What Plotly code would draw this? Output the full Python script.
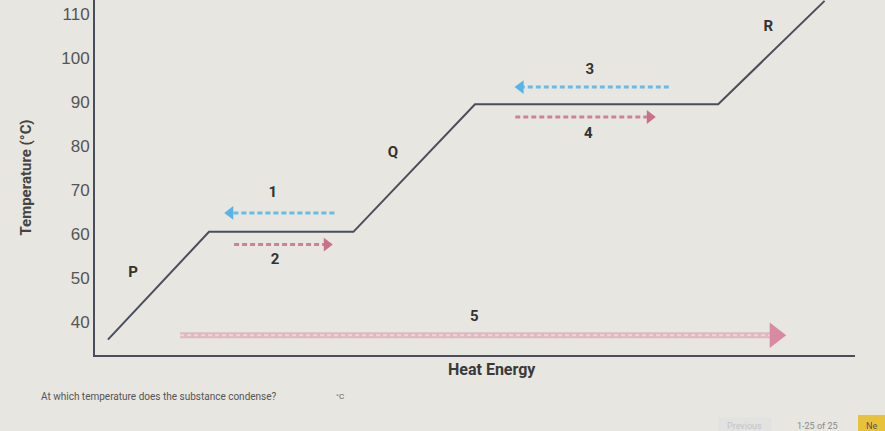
import plotly.graph_objects as go

# Heating curve (heat energy in arbitrary units 0-100, temperature in °C)
curve_x = [1.7, 15, 34, 50, 82, 96]
curve_t = [36, 60.5, 60.5, 89.5, 89.5, 113]

# dashed arrows: start x, end x, temperature, colour
arrow_names = ["1", "2", "3", "4"]
arrow_x0 = [31.5, 18.3, 75.5, 55.3]
arrow_x1 = [17.8, 30.5, 56.0, 73.0]
arrow_t = [64.8, 57.6, 93.4, 86.6]
arrow_colors = ["#56b4e6", "#c9708a", "#56b4e6", "#c9708a"]
label_x = [23.4, 23.7, 65.1, 64.9]
label_t = [69.3, 54.0, 97.3, 82.7]

# long arrow 5
arrow5_x = [11.2, 89.5]
arrow5_t = [37.0, 37.0]
label5_x = [49.9]
label5_t = [41.0]

# section letters
letters = ["P", "Q", "R"]
letter_x = [5.0, 39.2, 88.6]
letter_t = [51.0, 78.4, 107.0]

yticks = [40, 50, 60, 70, 80, 90, 100, 110]

line_col = "#4a4d5c"
bg = "#e7e6e0"
txt = "#333333"

fig = go.Figure()

# arrow 5 (thick faded pink band)
fig.add_trace(go.Scatter(x=arrow5_x, y=arrow5_t, mode="lines",
                         line=dict(color="rgba(214,150,170,0.55)", width=6),
                         hoverinfo="skip"))
fig.add_trace(go.Scatter(x=arrow5_x, y=arrow5_t, mode="lines",
                         line=dict(color="rgba(240,215,222,0.9)", width=2, dash="4px,3px"),
                         hoverinfo="skip"))
fig.add_trace(go.Scatter(x=[arrow5_x[1]], y=[arrow5_t[1]], mode="markers",
                         marker=dict(symbol="triangle-right", size=22, color="#d88aa2"),
                         hoverinfo="skip"))

# dashed arrows 1-4
for x0, x1, t, c in zip(arrow_x0, arrow_x1, arrow_t, arrow_colors):
    fig.add_trace(go.Scatter(x=[x0, x1], y=[t, t], mode="lines",
                             line=dict(color=c, width=3, dash="5px,3px"),
                             opacity=0.85, hoverinfo="skip"))
    sym = "triangle-left" if x1 < x0 else "triangle-right"
    fig.add_trace(go.Scatter(x=[x1], y=[t], mode="markers",
                             marker=dict(symbol=sym, size=12, color=c),
                             hoverinfo="skip"))

# heating curve
fig.add_trace(go.Scatter(x=curve_x, y=curve_t, mode="lines",
                         line=dict(color=line_col, width=2), hoverinfo="skip"))

# number and letter labels
fig.add_trace(go.Scatter(x=label_x + label5_x, y=label_t + label5_t, mode="text",
                         text=[f"<b>{s}</b>" for s in arrow_names + ["5"]],
                         textfont=dict(family="Roboto", size=15, color=txt),
                         hoverinfo="skip"))
fig.add_trace(go.Scatter(x=letter_x, y=letter_t, mode="text", text=[f"<b>{s}</b>" for s in letters],
                         textfont=dict(family="Roboto", size=15, color=txt),
                         hoverinfo="skip"))

fig.update_layout(
    width=885, height=431,
    margin=dict(l=95, r=30, t=0, b=76),
    paper_bgcolor=bg, plot_bgcolor=bg,
    showlegend=False,
    xaxis=dict(range=[0, 100], showgrid=False, zeroline=False, showticklabels=False,
               showline=True, linecolor=line_col, linewidth=2),
    yaxis=dict(range=[32.5, 113.2], tickvals=yticks, showgrid=False, zeroline=False,
               showline=True, linecolor=line_col, linewidth=2,
               tickfont=dict(family="Liberation Sans", size=17, color="#555555"),
               title=dict(text="<b>Temperature (°C)</b>", standoff=26,
                          font=dict(family="Roboto", size=15, color="#444444"))),
    annotations=[
        dict(text="<b>Heat Energy</b>", xref="paper", yref="paper", x=0.522, y=0,
             yshift=-14, yanchor="middle", showarrow=False,
             font=dict(family="Roboto", size=16, color="#3a3a3a")),
        dict(text="At which temperature does the substance condense?", xref="paper", yref="paper",
             x=0.084, y=-0.118, xanchor="center", yanchor="middle", showarrow=False,
             font=dict(family="Liberation Sans Narrow, Roboto", size=10, color="#555555")),
        dict(text="°C", xref="paper", yref="paper", x=0.322, y=-0.118, xanchor="center",
             yanchor="middle", showarrow=False, font=dict(family="Roboto", size=8, color="#666666")),
        dict(text="Previous", xref="paper", yref="paper", x=0.855, y=-0.2, xanchor="center",
             yanchor="middle", showarrow=False,
             font=dict(family="Liberation Sans Narrow, Roboto", size=9, color="#c4c4c4")),
        dict(text="1-25 of 25", xref="paper", yref="paper", x=0.951, y=-0.2, xanchor="center",
             yanchor="middle", showarrow=False,
             font=dict(family="Liberation Sans Narrow, Roboto", size=9, color="#8a8a8a")),
        dict(text="Ne", xref="paper", yref="paper", x=1.022, y=-0.2, xanchor="center",
             yanchor="middle", showarrow=False, font=dict(family="Roboto", size=9, color="#555555")),
    ],
    shapes=[
        dict(type="rect", xref="paper", yref="paper", x0=0.82, x1=0.89, y0=-0.225, y1=-0.175,
             fillcolor="#e2e2e0", line=dict(width=0), layer="below"),
        dict(type="rect", xref="paper", yref="paper", x0=1.004, x1=1.04, y0=-0.225, y1=-0.169,
             fillcolor="#e8c23a", line=dict(width=0), layer="below"),
    ],
)

fig.write_html("out.html", config={"displayModeBar": False},
               post_script="document.body.style.margin='0';")
